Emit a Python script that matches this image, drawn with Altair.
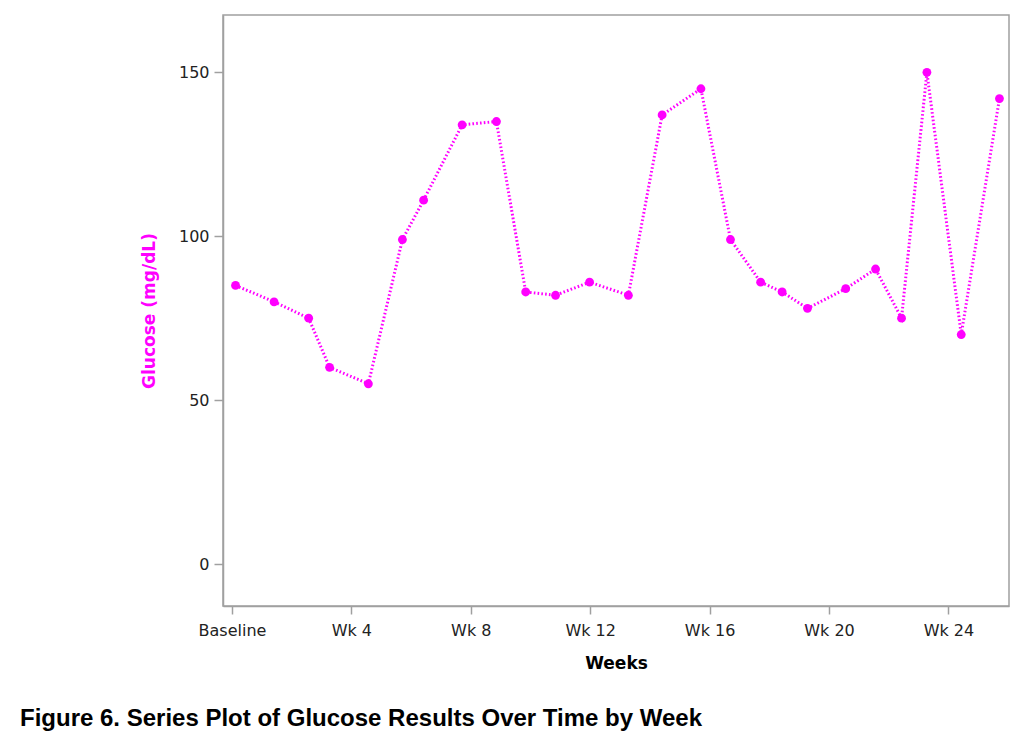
import altair as alt
import pandas as pd

# Data
weeks = [0.12, 1.41, 2.57, 3.27, 4.57, 5.71, 6.42, 7.71, 8.86, 9.84, 10.84, 11.98,
         13.28, 14.41, 15.71, 16.70, 17.71, 18.43, 19.28, 20.56, 21.56, 22.43,
         23.28, 24.43, 25.71]
glucose = [85, 80, 75, 60, 55, 99, 111, 134, 135, 83, 82, 86, 82, 137, 145, 99,
           86, 83, 78, 84, 90, 75, 150, 70, 142]
x_tick_values = [0, 4, 8, 12, 16, 20, 24]
x_tick_labels = ["Baseline", "Wk 4", "Wk 8", "Wk 12", "Wk 16", "Wk 20", "Wk 24"]
y_tick_values = [0, 50, 100, 150]

df = pd.DataFrame({"week": weeks, "glucose": glucose, "order": range(len(weeks))})

label_expr = " : ".join(
    f"datum.value == {v} ? '{l}'" for v, l in zip(x_tick_values, x_tick_labels)
) + " : ''"

MAGENTA = "#FF00FF"
FONT = "DejaVu Sans"

x_enc = alt.X(
    "week:Q",
    scale=alt.Scale(domain=[-0.3, 26.03], nice=False, zero=False),
    axis=alt.Axis(
        title="Weeks", values=x_tick_values, labelExpr=label_expr,
        grid=False, tickSize=8, labelPadding=8, titlePadding=17,
        labelFont=FONT, labelFontSize=16, labelColor="#222222",
        titleFont=FONT, titleFontSize=17, titleFontWeight="bold", titleColor="#000000",
        domainColor="#a0a0a0", tickColor="#a0a0a0", domainWidth=1.5, tickWidth=1.5,
    ),
)
y_enc = alt.Y(
    "glucose:Q",
    scale=alt.Scale(domain=[-12.8, 167.5], nice=False, zero=False),
    axis=alt.Axis(
        title="Glucose (mg/dL)", values=y_tick_values, grid=False,
        tickSize=9, labelPadding=5, titlePadding=20,
        labelFont=FONT, labelFontSize=16, labelColor="#222222",
        titleFont=FONT, titleFontSize=17, titleFontWeight="bold", titleColor=MAGENTA,
        domainColor="#a0a0a0", tickColor="#a0a0a0", domainWidth=1.5, tickWidth=1.5,
    ),
)

line = alt.Chart(df).mark_line(
    color=MAGENTA, strokeWidth=3, strokeDash=[1.6, 2.2]
).encode(x=x_enc, y=y_enc, order="order:Q")

points = alt.Chart(df).mark_point(
    filled=True, shape="circle", size=78, color=MAGENTA, opacity=1
).encode(x=x_enc, y=y_enc)

chart = (line + points).properties(
    width=786,
    height=591,
    autosize=alt.AutoSizeParams(type="none"),
    padding={"left": 215, "top": 7, "right": 1, "bottom": 134},
    title=alt.TitleParams(
        "Figure 6. Series Plot of Glucose Results Over Time by Week",
        orient="bottom", anchor="start", frame="group",
        font="Liberation Sans", fontSize=24, fontWeight="bold", color="#000000",
        dx=-203, offset=36,
    ),
).configure_view(stroke="#a0a0a0", strokeWidth=1.5)

chart.save("out.html", embed_options={"renderer": "svg", "actions": False})
